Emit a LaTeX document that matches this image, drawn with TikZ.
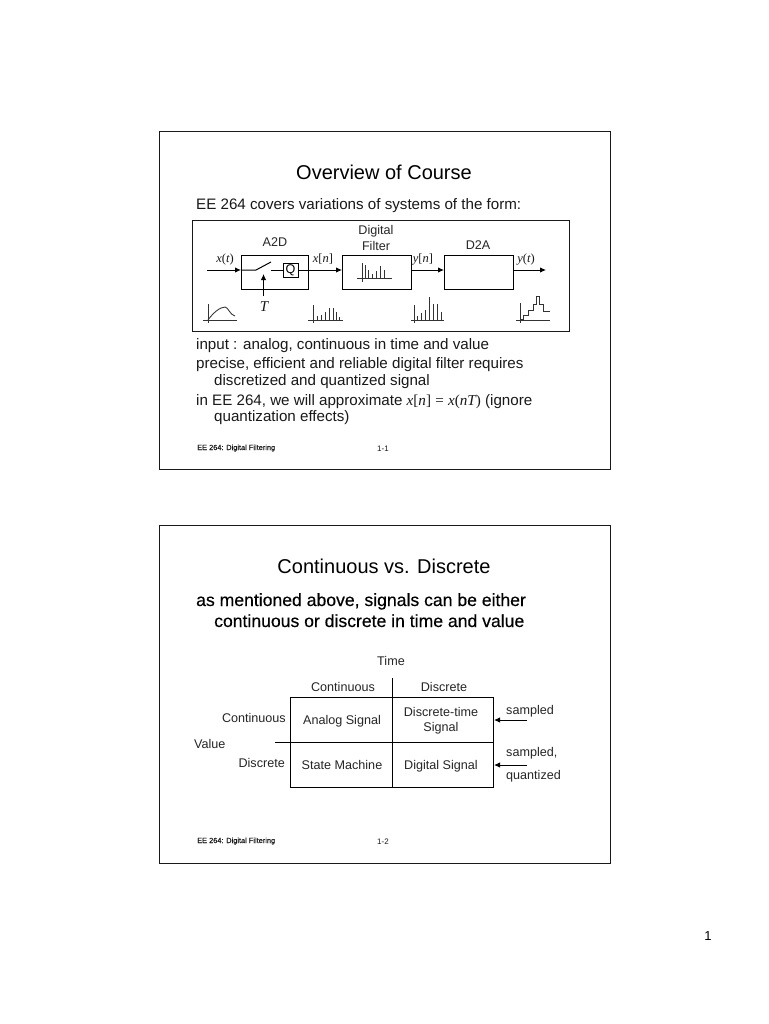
\documentclass[tikz,border=0pt]{standalone}
\usepackage{fontspec}
\setmainfont{Liberation Sans}
\newfontfamily\mathserif{Liberation Serif}
\newfontfamily\fakebold[FakeBold=0.3]{Liberation Sans}
\usetikzlibrary{arrows.meta}
\newcommand{\mv}[1]{{\mathserif\itshape #1}}
\newcommand{\mr}[1]{{\mathserif #1}}
\tikzset{
  x=1pt,y=-1pt,
  frame/.style={draw=black!90,line width=1pt},
  blockbox/.style={draw=black,line width=1pt,inner sep=0pt,minimum height=34pt,minimum width=68pt},
  conn/.style={draw=black,line width=1pt,-{Latex[length=6pt,width=5.5pt]}},
  plain/.style={draw=black,line width=1pt},
  plot/.style={draw=black!80,line width=0.85pt},
  title/.style={anchor=base,inner sep=0pt,font=\fontsize{20}{22}\selectfont},
  body/.style={anchor=base west,inner sep=0pt,font=\fontsize{15.15}{17}\selectfont,text=black!90},
  boldbody/.style={anchor=base west,inner sep=0pt,font=\fakebold\fontsize{17.6}{18}\selectfont},
  small/.style={anchor=base,inner sep=0pt,font=\fontsize{12.6}{14}\selectfont,text=black!85},
  tiny/.style={anchor=base west,inner sep=0pt,font=\fakebold\fontsize{7.4}{9}\selectfont,text=black!90},
  sig/.style={anchor=base,inner sep=0pt,font=\fontsize{12.5}{14}\selectfont,text=black!90},
}
\begin{document}
\begin{tikzpicture}
\useasboundingbox (0,0) rectangle (768,1024);
\fill[white] (0,0) rectangle (768,1024);
% slide frames
\draw[frame] (159,132) rectangle (610,469);
\draw[frame] (159,525) rectangle (610,863);
\node[title] (t1) at (384,180) {Overview of Course};
\node[body] (l0) at (196,210) {EE 264 covers variations of systems of the form:};
\draw[frame] (192,221) rectangle (569,331);
% blocks
\node[blockbox,minimum width=67pt] (a2d) at (274.5,272) {};
\node[blockbox,minimum width=69pt] (filt) at (376.5,272) {};
\node[blockbox,minimum width=69pt] (d2a) at (478.5,272) {};
\node[small] (la2d) at (275,246) {A2D};
\node[small] (lf1) at (376,235) {Digital};
\node[small] (lf2) at (376,250) {Filter};
\node[small] (ld2a) at (478,249) {D2A};
\node[draw=black,line width=1pt,minimum width=15pt,minimum height=14pt,inner sep=0pt,font=\fontsize{12.6}{14}\selectfont] (q) at (290.5,270) {Q};
\coordinate (in) at (207,270);
\coordinate (ina) at (241,270);
\coordinate (outp) at (546,270);
\coordinate (s1) at (256,270);
\coordinate (s2) at (271,262);
\coordinate (s3) at (271,270);
\coordinate (tb) at (263.5,296);
\coordinate (tt) at (263.5,274);
\coordinate (qf) at (342,270);
\coordinate (ff) at (411,270);
\coordinate (fd) at (444,270);
\coordinate (do) at (513,270);
\draw[conn] (in) -- (ina);
\draw[plain] (ina) -- (s1) -- (s2);
\draw[plain] (s3) -- (q.west);
\draw[conn] (q.east) -- (qf);
\draw[conn] (ff) -- (fd);
\draw[conn] (do) -- (outp);
\draw[conn] (tb) -- (tt);
\node[sig] (xt) at (225,262) {\mv{x}\mr{(}\mv{t}\mr{)}};
\node[sig] (xn) at (323,262) {\mv{x}\mr{[}\mv{n}\mr{]}};
\node[sig] (yn) at (423,262) {\mv{y}\mr{[}\mv{n}\mr{]}};
\node[sig] (yt) at (526,262) {\mv{y}\mr{(}\mv{t}\mr{)}};
\node[sig,font=\fontsize{15}{16}\selectfont] (tl) at (264,311) {\mv{T}};
% plot 1
\draw[plot] (203,320) -- (237,320);
\draw[plot] (208,304) -- (208,323);
\draw[plot] (208,320) .. controls (213,313) and (220,307) .. (225,307) .. controls (228,307) and (230,315) .. (235,316);
% plot 2
\draw[plot] (308,320) -- (343,320);
\draw[plot] (313,305) -- (313,323);
\foreach \a/\b in {317.5/316,321.7/315,325.7/312,329.3/308,333.3/308,336.7/312,339.3/317}{\draw[plot] (\a,320) -- (\a,\b);}
% filter plot
\draw[plot] (357,278) -- (392,278);
\draw[plot] (362,263) -- (362,282);
\foreach \a/\b in {365.7/265,368.7/270,372.7/274,376.7/271,380.7/266,384/270}{\draw[plot] (\a,278) -- (\a,\b);}
% plot 3
\draw[plot] (411,320) -- (444,320);
\draw[plot] (414,305) -- (414,323);
\foreach \a/\b in {417.7/316,421.3/313,425/310,429.3/297,433.3/304,437.3/304,441.3/312}{\draw[plot] (\a,320) -- (\a,\b);}
% plot 4
\draw[plot] (516,320) -- (550,320);
\draw[plot] (520,303) -- (520,323);
\draw[plot] (520,319) -- (523,319) -- (523,315) -- (528,315) -- (528,310) -- (533,310) -- (533,304) -- (536,304) -- (536,296) -- (539,296) -- (539,304) -- (543,304) -- (543,311) -- (550,311);
% slide 1 text
\node[body] (l1) at (196,349) {input : analog, continuous in time and value};
\node[body] (l2) at (196,368) {precise, efficient and reliable digital filter requires};
\node[body] (l3) at (214,385) {discretized and quantized signal};
\node[body] (l4) at (196,405) {in EE 264, we will approximate \mv{x}\mr{[}\mv{n}\mr{]} \mr{=} \mv{x}\mr{(}\mv{nT}\mr{)} (ignore};
\node[body] (l5) at (214,421) {quantization effects)};
\node[tiny] (f1) at (197,450) {EE 264: Digital Filtering};
\node[tiny,anchor=base,font=\fontsize{8}{9}\selectfont] (p1) at (383,451) {1-1};
% slide 2
\node[title] (t2) at (384,573) {Continuous vs. Discrete};
\node[boldbody] (b1) at (196,606) {as mentioned above, signals can be either};
\node[boldbody] (b2) at (214,627) {continuous or discrete in time and value};
\node[small] (ltime) at (391,665) {Time};
\node[small] (lcont) at (343,691) {Continuous};
\node[small] (ldisc) at (444,691) {Discrete};
\coordinate (tl1) at (290,697);
\coordinate (br1) at (493,787);
\draw[plain] (tl1) rectangle (br1);
\coordinate (vt) at (392,678);
\coordinate (vb) at (392,787);
\coordinate (hl) at (275,742);
\coordinate (hr) at (493,742);
\draw[plain] (vt) -- (vb);
\draw[plain] (hl) -- (hr);
\node[small] (c11) at (342,724) {Analog Signal};
\node[small] (c12) at (441,716) {Discrete-time};
\node[small] (c12b) at (441,731) {Signal};
\node[small] (c21) at (342,769) {State Machine};
\node[small] (c22) at (441,769) {Digital Signal};
\node[small,anchor=base east] (r1) at (286,722) {Continuous};
\node[small,anchor=base west] (r0) at (194,748) {Value};
\node[small,anchor=base east] (r2) at (285,767) {Discrete};
\node[small,anchor=base west] (s1t) at (506,714) {sampled};
\node[small,anchor=base west] (s2t) at (506,756) {sampled,};
\node[small,anchor=base west] (s3t) at (506,779) {quantized};
\coordinate (a1s) at (527,720);
\coordinate (a1e) at (494,720);
\coordinate (a2s) at (527,765);
\coordinate (a2e) at (494,765);
\draw[conn] (a1s) -- (a1e);
\draw[conn] (a2s) -- (a2e);
\node[tiny] (f2) at (197,843) {EE 264: Digital Filtering};
\node[tiny,anchor=base,font=\fontsize{8}{9}\selectfont] (p2) at (383,844) {1-2};
\node[anchor=base,inner sep=0pt,font=\fontsize{13}{14}\selectfont] (pg) at (708,940) {1};
\end{tikzpicture}
\end{document}
